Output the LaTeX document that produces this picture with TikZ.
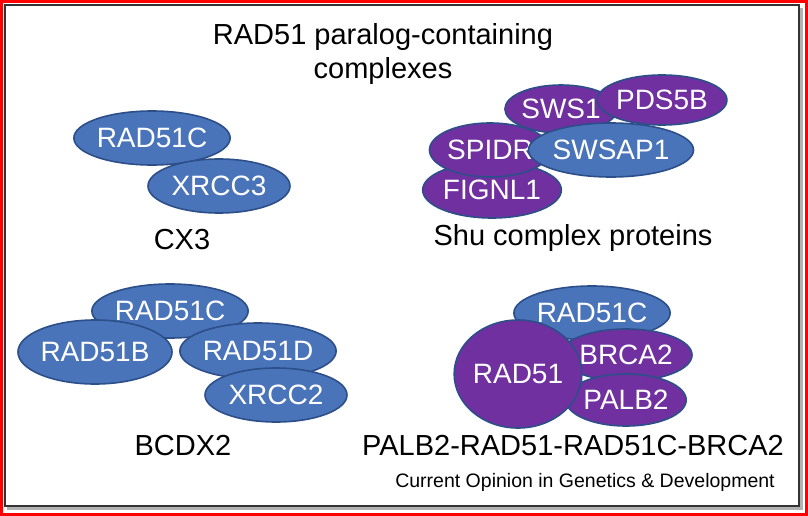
\documentclass[tikz,border=0pt]{standalone}
\usepackage{fontspec}
\setmainfont{Liberation Sans}
\usetikzlibrary{shapes.geometric}
\definecolor{pblue}{HTML}{4A74BA}
\definecolor{ppurp}{HTML}{7030A0}
\definecolor{pedge}{HTML}{2C4F8A}
\begin{document}
\begin{tikzpicture}[x=1pt,y=-1pt,
  prot/.style={ellipse,draw=pedge,line width=1.6pt,text=white,font=\fontsize{28}{30}\selectfont,inner sep=0pt},
  b/.style={prot,fill=pblue},
  p/.style={prot,fill=ppurp},
  lab/.style={font=\fontsize{29}{34}\selectfont,align=center}]
\useasboundingbox (0,0) rectangle (808,516);
\draw[red,line width=3pt] (1.5,1.5) rectangle (806.5,514.5);
\fill[gray!60] (7,8) rectangle (803,510);
\draw[black!80,line width=1.2pt,fill=white] (5,5) rectangle (799,506);
\node[lab] (title) at (383,54) {RAD51 paralog-containing\\complexes};
% CX3
\node[b,minimum width=140pt,minimum height=54pt] (c1) at (152,138) {RAD51C};
\node[b,minimum width=142pt,minimum height=54pt] (c2) at (219,186) {XRCC3};
\node[lab] (lcx3) at (182,240) {CX3};
% Shu
\node[p,minimum width=96pt,minimum height=48pt] (s1) at (561,109) {SWS1};
\node[p,minimum width=114pt,minimum height=50pt] (s2) at (662,100) {PDS5B};
\node[p,minimum width=134pt,minimum height=56pt] (s5) at (492,190) {FIGNL1};
\node[p,minimum width=116pt,minimum height=54pt] (s3) at (490,150) {SPIDR};
\node[b,minimum width=142pt,minimum height=54pt] (s4) at (611,150) {SWSAP1};
\node[lab] (lshu) at (573,238) {Shu complex proteins};
% BCDX2
\node[b,minimum width=140pt,minimum height=54pt] (d1) at (170,311) {RAD51C};
\node[b,minimum width=140pt,minimum height=64pt] (d2) at (95,352) {RAD51B};
\node[b,minimum width=142pt,minimum height=56pt] (d3) at (258,351) {RAD51D};
\node[b,minimum width=142pt,minimum height=54pt] (d4) at (276,395) {XRCC2};
\node[lab] (lbc) at (183,446) {BCDX2};
% PALB2 complex
\node[b,minimum width=140pt,minimum height=54pt] (r1) at (592,313) {RAD51C};
\node[p,minimum width=116pt,minimum height=52pt] (r2) at (626,355) {BRCA2};
\node[p,minimum width=120pt,minimum height=52pt] (r3) at (626,400) {PALB2};
\node[p,minimum width=104pt,minimum height=108pt] (r4) at (518,374) {RAD51};
\node[lab] (lpr) at (573,446) {PALB2-RAD51-RAD51C-BRCA2};
\node[font=\fontsize{19.5}{22}\selectfont] (cap) at (585,482) {Current Opinion in Genetics \& Development};
\end{tikzpicture}
\end{document}
